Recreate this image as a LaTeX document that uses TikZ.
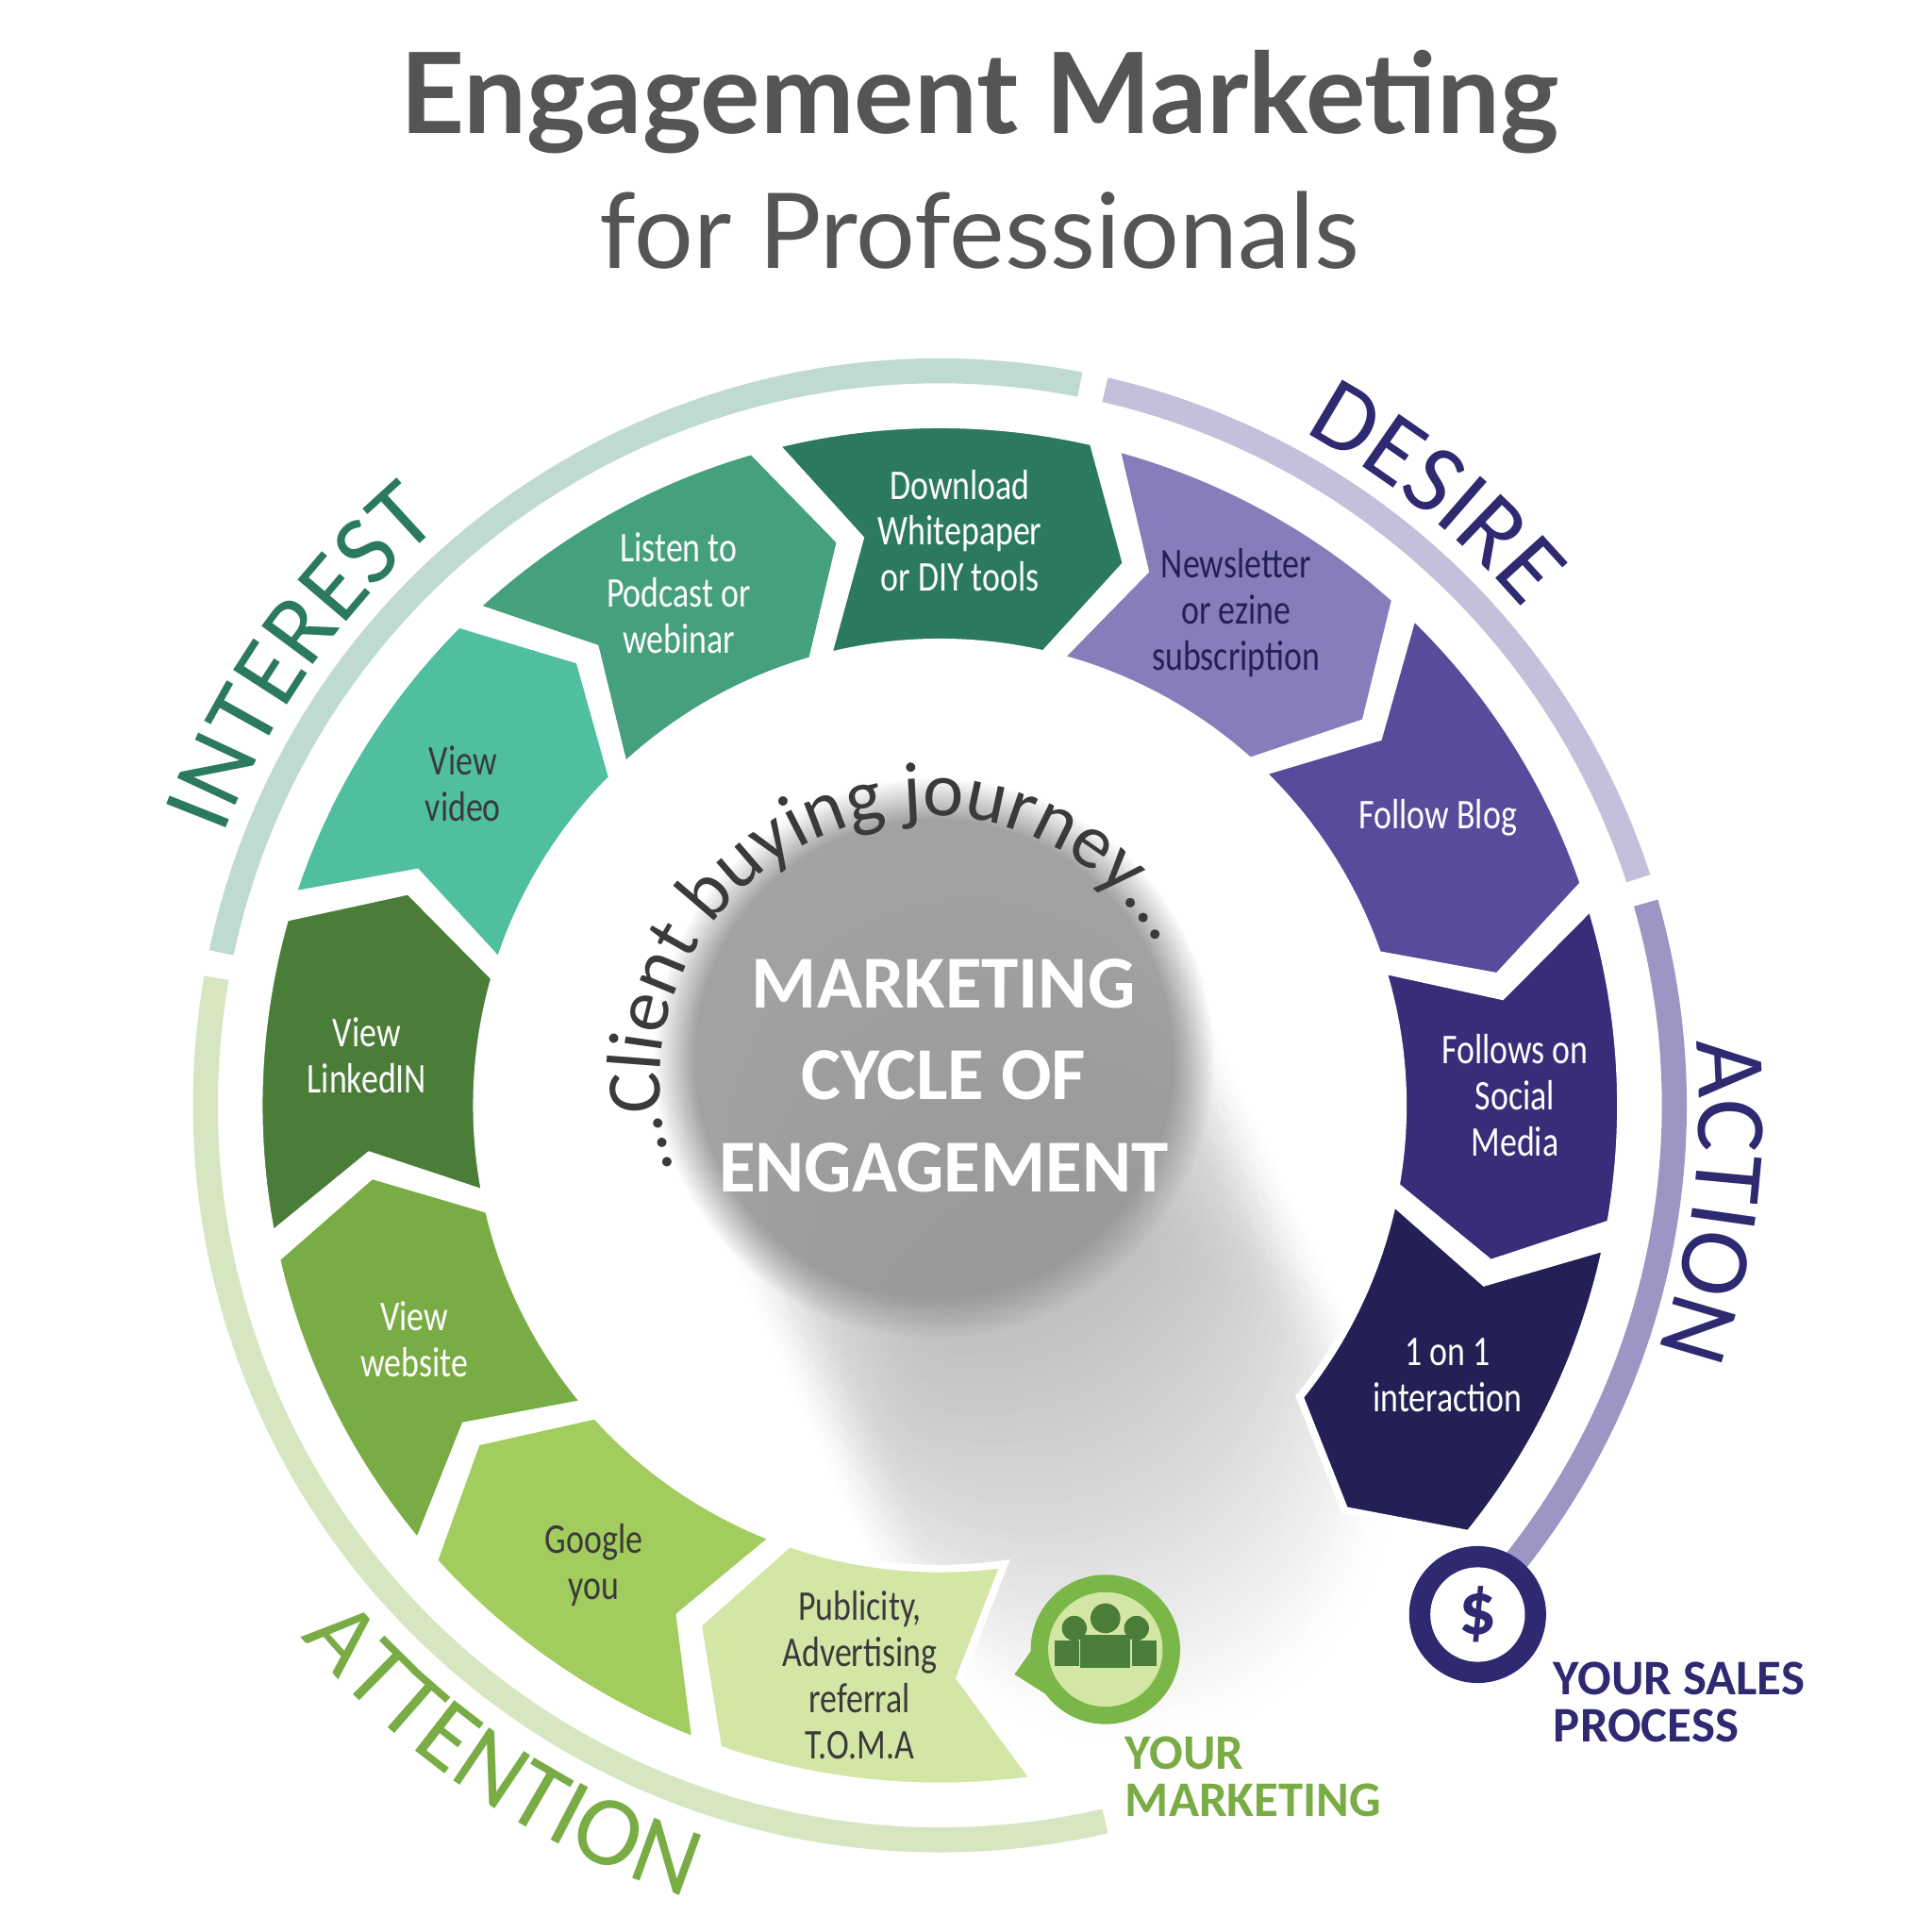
\documentclass[tikz,border=0pt]{standalone}
\usepackage{fontspec}
\setmainfont{Carlito}
\newfontfamily\titlefont{Lato}
\newfontfamily\labfont[FakeStretch=0.8]{Carlito}
\usetikzlibrary{decorations.text,fadings}
\definecolor{cA}{HTML}{D4E6A5}\definecolor{cB}{HTML}{A3CC5E}\definecolor{cC}{HTML}{7AAC45}
\definecolor{cD}{HTML}{4A7D37}\definecolor{cE}{HTML}{4FBF9F}\definecolor{cF}{HTML}{45A07E}
\definecolor{cG}{HTML}{2B7A5E}\definecolor{cH}{HTML}{877DBA}\definecolor{cI}{HTML}{574C9C}
\definecolor{cJ}{HTML}{3A2C78}\definecolor{cK}{HTML}{241F55}
\definecolor{ringI}{HTML}{BFD9D3}\definecolor{ringD}{HTML}{C4C0DC}\definecolor{ringAc}{HTML}{9C96C5}
\definecolor{ringAt}{HTML}{D5E6C0}\definecolor{navy}{HTML}{2E2970}\definecolor{dgray}{HTML}{3A3A3A}
\definecolor{titleg}{HTML}{555555}\definecolor{mgreen}{HTML}{7AB648}
\tikzset{lab/.style={align=center,font=\labfont\fontsize{17}{18.5}\selectfont},
ring/.style={line width=10}}
\begin{document}
\begin{tikzpicture}[x=0.5pt,y=0.5pt]
\useasboundingbox (-755,-664) rectangle (797,888);
\fill[white] (-755,-664) rectangle (797,888);
% title
\node[font=\titlefont\bfseries\fontsize{45}{50}\selectfont,text=titleg] (t1) at (32,806) {Engagement Marketing};
\node[font=\titlefont\fontsize{42}{50}\selectfont,text=titleg] (t2) at (32,703) {for Professionals};
% shadow blob
\foreach \i in {1,...,14}{
  \fill[gray,path fading=circle with fuzzy edge 20 percent,fill opacity=0.045] ({-5+\i*11},{38-\i*24}) circle (215);
}
\fill[gray!85,path fading=circle with fuzzy edge 15 percent,fill opacity=0.85] (-5,38) circle (225);
% rings
\draw[ring,ringI] (168:590) arc[start angle=168,end angle=79,radius=590];
\draw[ring,ringD] (77:590) arc[start angle=77,end angle=18,radius=590];
\draw[ring,ringAc] (16:590) arc[start angle=16,end angle=-40,radius=590];
\draw[ring,ringAt] (170:590) arc[start angle=170,end angle=283,radius=590];
% ring labels
\path[decorate,decoration={text along path,text align=center,text color=cG,
  text={|\fontsize{40}{40}\selectfont|INTEREST}}] (175:615) arc[start angle=175,end angle=115,radius=615];
\path[decorate,decoration={text along path,text align=center,text color=navy,
  text={|\fontsize{40}{40}\selectfont|DESIRE}}] (81:615) arc[start angle=81,end angle=21,radius=615];
\path[decorate,decoration={text along path,text align=center,text color=navy,
  text={|\fontsize{40}{40}\selectfont|ACTION}}] (23:610) arc[start angle=23,end angle=-37,radius=610];
\path[decorate,decoration={text along path,text align=center,text color=cC,
  text={|\fontsize{40}{40}\selectfont|ATTENTION}}] (-160:668) arc[start angle=-160,end angle=-88,radius=668];
% client buying journey
\path[decorate,decoration={text along path,text align=center,text color=dgray,
  text={|\fontsize{31}{31}\selectfont|...Client buying journey...}}] (-10,18) ++(205:215) arc[start angle=205,end angle=25,radius=215];
% chevrons
\foreach \a/\c in {264/cA,235/cB,206/cC,177/cD,148/cE,119/cF,90/cG,61/cH,32/cI,3/cJ,-26/cK}{
 \fill[\c,draw=white,line width=3] ({\a+14}:547) arc[start angle={\a+14},end angle={\a-13},radius=547]
   -- ({\a-19}:460) -- ({\a-13}:372) arc[start angle={\a-13},end angle={\a+14},radius=372]
   -- ({\a+8}:460) -- cycle;
}
\foreach \a/\t/\tc [count=\k] in {
 262/{Publicity,\\Advertising\\referral\\T.O.M.A}/dgray,
 233/{Google\\you}/dgray,
 204/{View\\website}/white,
 175/{View\\LinkedIN}/white,
 146/{View\\video}/dgray,
 117/{Listen to\\Podcast or\\webinar}/white,
 88/{Download\\Whitepaper\\or DIY tools}/white,
 59/{Newsletter\\or ezine\\subscription}/cK,
 30/{Follow Blog}/white,
 1/{Follows on\\Social\\Media}/white,
 -28/{1 on 1\\interaction}/white}{
 \node[lab,text=\tc] (L\k) at (\a:462) {\t};
}
% center text
\node[font=\bfseries\fontsize{30}{33}\selectfont,text=white,align=center] (ctr) at (3,24) {MARKETING\\[4pt]CYCLE OF\\[4pt]ENGAGEMENT};
% marketing icon
\fill[mgreen] (133,-437) circle (60);
\fill[mgreen] (60,-457) -- (100,-400) -- (120,-495) -- cycle;
\fill[cA] (133,-437) circle (46);
\fill[cD] (133,-412) circle (12); \fill[cD] (108,-420) circle (10); \fill[cD] (158,-420) circle (10);
\fill[cD] (113,-452) rectangle (153,-425); \fill[cD] (92,-450) rectangle (112,-430); \fill[cD] (154,-450) rectangle (174,-430);
\node[font=\bfseries\fontsize{20}{19}\selectfont,text=cC,align=left,anchor=north west] (ym) at (142,-500) {YOUR\\MARKETING};
% dollar icon
\fill[navy] (432,-409) circle (55);
\fill[white] (432,-409) circle (38);
\node[font=\bfseries\fontsize{30}{30}\selectfont,text=navy] (dol) at (432,-409) {\$};
\node[font=\bfseries\fontsize{20}{19}\selectfont,text=navy,align=left,anchor=north west] (ys) at (486,-440) {YOUR SALES\\PROCESS};
\end{tikzpicture}
\end{document}
